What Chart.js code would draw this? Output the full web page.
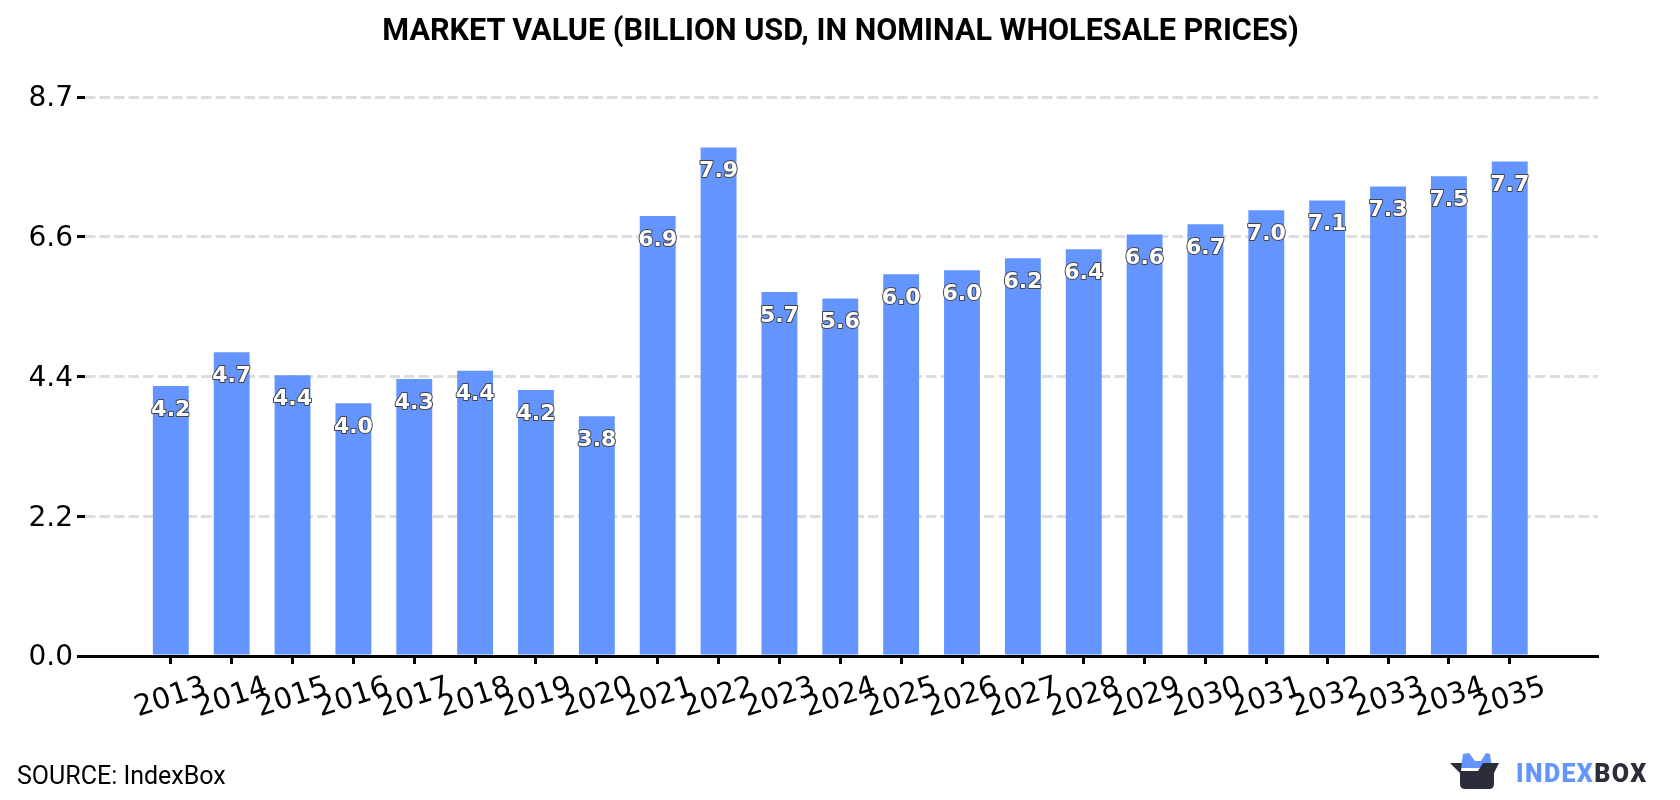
<!DOCTYPE html>
<html>
<head>
<meta charset="utf-8">
<title>Market Value</title>
<script src="https://cdn.jsdelivr.net/npm/chart.js@4"></script>
<style>
    html, body { margin: 0; padding: 0; background: #fff; }
    .page { position: relative; width: 1680px; height: 800px; overflow: hidden; }
    canvas { display: block; }
    .title { position: absolute; left: 0; top: 12px; width: 1681px; text-align: center; font: 700 30.6px Roboto, sans-serif; color: #000; }
    .source { position: absolute; left: 17px; top: 761px; font: 400 25px Roboto, sans-serif; color: #000; }
    .logo { position: absolute; left: 1450px; top: 752px; width: 50px; height: 38px; }
    .brand { position: absolute; left: 1516px; top: 759px; font: 900 25px Roboto, sans-serif; letter-spacing: 1.4px; color: #2b2d3a; }
    .brand span { color: #6495ff; }
</style>
</head>
<body>
<div class="page">
    <canvas id="marketChart" width="1680" height="800"></canvas>
    <div class="title">MARKET VALUE (BILLION USD, IN NOMINAL WHOLESALE PRICES)</div>
    <div class="source">SOURCE: IndexBox</div>
    <svg class="logo" viewBox="0 0 50 38">
        <path d="M11 16 L13 2 L19 1 L25 9 L31 9 L36 1 L40 2 L42 16 Z" fill="#6495ff"/>
        <path d="M0 11 L12 11 L11 19 L28 19 L33 11 L49 11 L44 21 L44 32 Q44 37 39 37 L15 37 Q10 37 10 32 L10 21 Z" fill="#2b2d3a"/>
    </svg>
    <div class="brand"><span>INDEX</span>BOX</div>
</div>

<script>
const years = [2013, 2014, 2015, 2016, 2017, 2018, 2019, 2020, 2021, 2022, 2023, 2024, 2025, 2026, 2027, 2028, 2029, 2030, 2031, 2032, 2033, 2034, 2035];
const marketValue = [4.22, 4.75, 4.39, 3.95, 4.33, 4.46, 4.16, 3.75, 6.88, 7.95, 5.69, 5.59, 5.97, 6.03, 6.22, 6.36, 6.59, 6.75, 6.97, 7.12, 7.34, 7.50, 7.73];
const valueLabels = ['4.2', '4.7', '4.4', '4.0', '4.3', '4.4', '4.2', '3.8', '6.9', '7.9', '5.7', '5.6', '6.0', '6.0', '6.2', '6.4', '6.6', '6.7', '7.0', '7.1', '7.3', '7.5', '7.7'];
const yTicks = [0, 2.185, 4.37, 6.555, 8.74];

// White outlined value labels just under the top of each bar
const barLabels = {
    id: 'barLabels',
    afterDatasetsDraw(chart) {
        const ctx = chart.ctx;
        ctx.save();
        ctx.font = "bold 22px 'DejaVu Sans'";
        ctx.textAlign = 'center';
        ctx.textBaseline = 'middle';
        ctx.lineJoin = 'round';
        chart.getDatasetMeta(0).data.forEach((bar, i) => {
            ctx.lineWidth = 2;
            ctx.strokeStyle = '#444';
            ctx.strokeText(valueLabels[i], bar.x, bar.y + 24);
            ctx.fillStyle = '#fff';
            ctx.fillText(valueLabels[i], bar.x, bar.y + 24);
        });
        ctx.restore();
    }
};

new Chart(document.getElementById('marketChart'), {
    type: 'bar',
    data: {
        datasets: [{
            data: years.map((y, i) => ({ x: y, y: marketValue[i] })),
            backgroundColor: '#6495ff',
            barPercentage: 0.59,
            categoryPercentage: 1
        }]
    },
    plugins: [barLabels],
    options: {
        responsive: false,
        animation: false,
        layout: { padding: { left: 0, right: 82, top: 97, bottom: 0 } },
        plugins: {
            legend: { display: false },
            tooltip: { enabled: false }
        },
        scales: {
            x: {
                type: 'linear',
                offset: false,
                min: 2013 - 1.41,
                max: 2035 + 1.45,
                afterFit(scale) { scale.height = 144; },
                afterBuildTicks(scale) { scale.ticks = years.map(y => ({ value: y })); },
                border: { color: '#000', width: 3, z: 1 },
                grid: { offset: false, drawOnChartArea: false, color: '#000', tickColor: '#000', tickWidth: 3, tickLength: 8 },
                ticks: {
                    autoSkip: false,
                    minRotation: 18,
                    maxRotation: 18,
                    labelOffset: 35,
                    padding: 6,
                    color: '#000',
                    font: { family: 'DejaVu Sans', size: 29 },
                    callback: v => String(v)
                }
            },
            y: {
                min: 0,
                max: 8.74,
                afterFit(scale) { scale.width = 85; },
                afterBuildTicks(scale) { scale.ticks = yTicks.map(v => ({ value: v })); },
                border: { display: false, dash: [10.5, 4] },
                grid: { color: '#dddddd', lineWidth: 3, tickColor: '#000', tickWidth: 3, tickLength: 8 },
                ticks: {
                    padding: 4,
                    labelOffset: 2,
                    color: '#000',
                    font: { family: 'DejaVu Sans', size: 28 },
                    callback: v => v.toFixed(1)
                }
            }
        }
    }
});
</script>
</body>
</html>
